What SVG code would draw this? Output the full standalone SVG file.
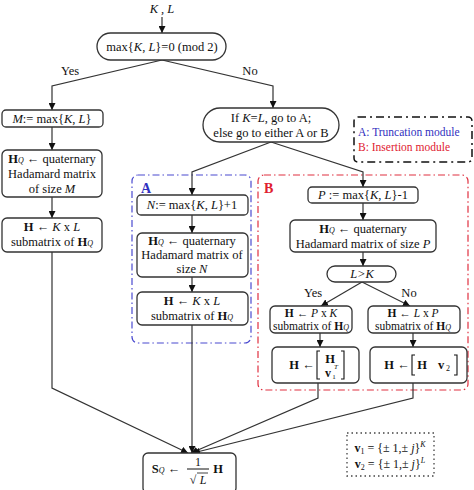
<svg xmlns="http://www.w3.org/2000/svg" width="474" height="490" viewBox="0 0 474 490">
<defs>
<marker id="ah" viewBox="0 0 10 10" refX="10" refY="5" markerWidth="7" markerHeight="7" orient="auto" markerUnits="userSpaceOnUse">
<path d="M0,0 L10,5 L0,10 z" fill="#111"/>
</marker>
<style>
text{font-family:"Liberation Serif","Times New Roman",serif;font-size:12.5px;fill:#111;text-anchor:middle}
.box{fill:#fff;stroke:#333;stroke-width:1.3}
.con{fill:none;stroke:#333;stroke-width:1.2;marker-end:url(#ah)}
.ln{fill:none;stroke:#111;stroke-width:1.1}
.b{font-weight:bold}
.i{font-style:italic}
.sub{font-size:8px;font-style:italic}
.sm{font-size:11.5px}
.modA{fill:none;stroke:#4a4ad0;stroke-width:1.2;stroke-dasharray:7,3,1.5,3}
.modB{fill:none;stroke:#e03040;stroke-width:1.2;stroke-dasharray:7,3,1.5,3}
.leg{fill:none;stroke:#111;stroke-width:1.5;stroke-dasharray:8,4,2,4}
.dot{fill:none;stroke:#444;stroke-width:1.3;stroke-dasharray:1.5,3}
</style>
</defs>
<rect width="474" height="490" fill="#fff"/>

<g id="moduleA">
<rect class="modA" x="132" y="175" width="119" height="168" rx="6"/>
<text x="141" y="193" class="b" style="fill:#3030c0;font-size:14px;text-anchor:start">A</text>
</g>
<g id="moduleB">
<rect class="modB" x="258" y="175" width="210" height="215" rx="6"/>
<text x="264" y="193" class="b" style="fill:#e02030;font-size:14px;text-anchor:start">B</text>
</g>
<g id="legend">
<rect class="leg" x="354" y="117" width="118" height="45" rx="4"/>
<text x="358" y="136" style="fill:#3030c0;text-anchor:start;font-size:11.5px">A: Truncation module</text>
<text x="358" y="151" style="fill:#e02030;text-anchor:start;font-size:11.5px">B:  Insertion module</text>
</g>

<g id="connectors">
<path class="con" d="M162,17 V33"/>
<path class="con" d="M162,60 L52,86 V110"/>
<path class="con" d="M162,60 L273,86 V108"/>
<path class="con" d="M52,127 V150"/>
<path class="con" d="M52,197 V218"/>
<path class="con" d="M52,252 V388 L188,453"/>
<path class="con" d="M271,142 L192,172 V195"/>
<path class="con" d="M271,142 L363,172 V187"/>
<path class="con" d="M192,215 V233"/>
<path class="con" d="M192,277 V292"/>
<path class="con" d="M192,325 V453"/>
<path class="con" d="M363,203 V220"/>
<path class="con" d="M363,252 V266"/>
<path class="con" d="M362,282 L321,306"/>
<path class="con" d="M362,282 L410,306"/>
<path class="con" d="M320,333 V347"/>
<path class="con" d="M413,333 V347"/>
<path class="con" d="M318,383 V398 L191,453"/>
<path class="con" d="M413,383 V398 L193,453"/>
</g>

<text x="162" y="13" class="i">K , L</text>
<text x="70" y="75">Yes</text>
<text x="250" y="75">No</text>

<g id="n_dec1">
<rect class="box" x="97" y="33" width="129" height="27" rx="13.5"/>
<text x="162" y="51">max{<tspan class="i">K</tspan>, <tspan class="i">L</tspan>}=0 (mod 2)</text>
</g>

<g id="n_M">
<rect class="box" x="2" y="110" width="101" height="17" rx="4"/>
<text x="52" y="123"><tspan class="i">M</tspan>:= max{<tspan class="i">K</tspan>, <tspan class="i">L</tspan>}</text>
</g>

<g id="n_HQ1">
<rect class="box" x="2" y="150" width="100" height="47" rx="5"/>
<text x="52" y="163"><tspan class="b">H</tspan><tspan class="sub">Q</tspan> ← quaternary</text>
<text x="52" y="178">Hadamard matrix</text>
<text x="52" y="193">of size <tspan class="i">M</tspan></text>
</g>

<g id="n_H1">
<rect class="box" x="2" y="218" width="100" height="34" rx="5"/>
<text x="52" y="231"><tspan class="b">H</tspan> ← <tspan class="i">K</tspan> x <tspan class="i">L</tspan></text>
<text x="52" y="246">submatrix of <tspan class="b">H</tspan><tspan class="sub">Q</tspan></text>
</g>

<g id="n_dec2">
<rect class="box" x="203" y="108" width="136" height="34" rx="17"/>
<text x="271" y="122">If <tspan class="i">K</tspan>=<tspan class="i">L</tspan>, go to A;</text>
<text x="271" y="137">else go to either A or B</text>
</g>

<g id="n_N">
<rect class="box" x="137" y="195" width="111" height="20" rx="4"/>
<text x="192" y="209"><tspan class="i">N</tspan>:= max{<tspan class="i">K</tspan>, <tspan class="i">L</tspan>}+1</text>
</g>

<g id="n_HQ2">
<rect class="box" x="137" y="233" width="111" height="44" rx="5"/>
<text x="192" y="245"><tspan class="b">H</tspan><tspan class="sub">Q</tspan> ←  quaternary</text>
<text x="192" y="259">Hadamard matrix of</text>
<text x="192" y="273">size <tspan class="i">N</tspan></text>
</g>

<g id="n_H2">
<rect class="box" x="137" y="292" width="111" height="33" rx="5"/>
<text x="192" y="305"><tspan class="b">H</tspan> ← <tspan class="i">K</tspan> x <tspan class="i">L</tspan></text>
<text x="192" y="320">submatrix of <tspan class="b">H</tspan><tspan class="sub">Q</tspan></text>
</g>

<g id="n_P">
<rect class="box" x="308" y="187" width="110" height="16" rx="4"/>
<text x="363" y="199"><tspan class="i">P</tspan> := max{<tspan class="i">K</tspan>, <tspan class="i">L</tspan>}-1</text>
</g>

<g id="n_HQ3">
<rect class="box" x="290" y="220" width="146" height="32" rx="5"/>
<text x="363" y="233"><tspan class="b">H</tspan><tspan class="sub">Q</tspan> ←  quaternary</text>
<text x="363" y="248">Hadamard matrix of size <tspan class="i">P</tspan></text>
</g>

<g id="n_dec3">
<rect class="box" x="327" y="266" width="69" height="16" rx="8"/>
<text x="362" y="278" class="i">L&gt;K</text>
</g>
<text x="313" y="297">Yes</text>
<text x="409" y="297">No</text>

<g id="n_Hyes">
<rect class="box" x="270" y="306" width="82" height="27" rx="5"/>
<text x="311" y="317" class="sm"><tspan class="b">H</tspan> ← <tspan class="i">P</tspan> x <tspan class="i">K</tspan></text>
<text x="311" y="330" class="sm">submatrix of <tspan class="b">H</tspan><tspan class="sub">Q</tspan></text>
</g>

<g id="n_Hno">
<rect class="box" x="368" y="306" width="92" height="27" rx="5"/>
<text x="413" y="317" class="sm"><tspan class="b">H</tspan> ← <tspan class="i">L</tspan> x <tspan class="i">P</tspan></text>
<text x="413" y="330" class="sm">submatrix of <tspan class="b">H</tspan><tspan class="sub">Q</tspan></text>
</g>

<g id="n_v1">
<rect class="box" x="272" y="347" width="87" height="36" rx="5"/>
<text x="302" y="369"><tspan class="b">H</tspan> ←</text>
<path class="ln" d="M320,351 h-3 v28 h3 M341,351 h3 v28 h-3"/>
<text x="330" y="363" class="b">H</text>
<text x="328" y="377" class="b" style="font-size:12px">v</text>
<text x="334" y="379" style="font-size:7px">1</text>
<text x="336" y="369" class="i" style="font-size:7px">T</text>
</g>

<g id="n_v2">
<rect class="box" x="370" y="347" width="97" height="36" rx="5"/>
<text x="397" y="369"><tspan class="b">H</tspan> ←</text>
<path class="ln" d="M415,355 h-3 v20 h3 M454,355 h3 v20 h-3"/>
<text x="422" y="369" class="b">H</text>
<text x="441" y="369" class="b">v</text>
<text x="448" y="371" style="font-size:8px">2</text>
</g>

<g id="n_S">
<rect class="box" x="143" y="453" width="93" height="40" rx="5"/>
<text x="166" y="473"><tspan class="b">S</tspan><tspan class="sub">Q</tspan> ←</text>
<text x="198" y="466" style="font-size:12px">1</text>
<line class="ln" x1="187" y1="469" x2="209" y2="469" style="stroke-width:1"/>
<text x="193" y="484" style="font-size:12px">√</text>
<line class="ln" x1="197" y1="473" x2="208" y2="473" style="stroke-width:0.8"/>
<text x="203" y="484" class="i" style="font-size:12px">L</text>
<text x="218" y="473" class="b">H</text>
</g>

<g id="note">
<rect class="dot" x="347" y="433" width="87" height="43"/>
<text x="390" y="452" style="font-size:12px"><tspan class="b">v</tspan><tspan style="font-size:8px" baseline-shift="-2">1</tspan> = {± 1,± <tspan class="i">j</tspan>}<tspan class="i" style="font-size:8px" baseline-shift="5">K</tspan></text>
<text x="390" y="468" style="font-size:12px"><tspan class="b">v</tspan><tspan style="font-size:8px" baseline-shift="-2">2</tspan> = {± 1,± <tspan class="i">j</tspan>}<tspan class="i" style="font-size:8px" baseline-shift="5">L</tspan></text>
</g>
</svg>
